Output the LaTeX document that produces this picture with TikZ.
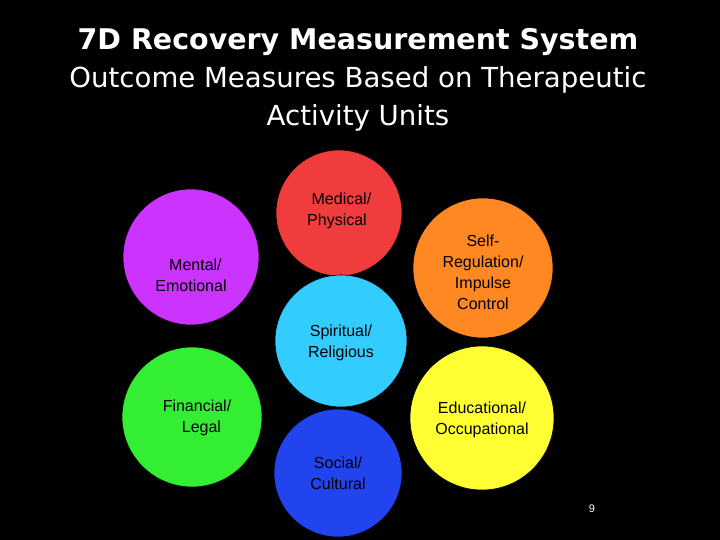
\documentclass[tikz,border=0pt]{standalone}
\usepackage{fontspec}
\setmainfont{Liberation Sans}
\newfontfamily\titlef{DejaVu Sans}
\begin{document}
\begin{tikzpicture}[x=1pt,y=-1pt,
  circ/.style={circle,draw=black,line width=0.6pt,inner sep=0pt},
  lab/.style={text=black,font=\fontsize{16}{21}\selectfont,align=center}]
\fill[black] (0,0) rectangle (720,540);
\useasboundingbox (0,0) rectangle (720,540);
\node[text=white,font=\titlef\bfseries\fontsize{28.5}{32}\selectfont] (t1) at (358,42) {7D Recovery Measurement System};
\node[text=white,font=\titlef\fontsize{27.6}{38}\selectfont,align=center] (t2) at (358,99) {Outcome Measures Based on Therapeutic\\Activity Units};
\node[circ,minimum size=126pt,fill={rgb,255:red,240;green,60;blue,60}] (med) at (339,213) {};
\node[circ,minimum size=136pt,fill={rgb,255:red,204;green,51;blue,255}] (men) at (191,257) {};
\node[circ,minimum size=140pt,fill={rgb,255:red,255;green,136;blue,34}] (self) at (483,268) {};
\node[circ,minimum size=132pt,fill={rgb,255:red,51;green,204;blue,255}] (spi) at (341,341) {};
\node[circ,minimum size=140pt,fill={rgb,255:red,51;green,238;blue,51}] (fin) at (192,417) {};
\node[circ,minimum size=144pt,fill={rgb,255:red,255;green,255;blue,51}] (edu) at (482,418) {};
\node[circ,minimum size=128pt,fill={rgb,255:red,34;green,68;blue,238}] (soc) at (338,473) {};
\node[lab] (lmed) at (337,211) {~~Medical/\\Physical};
\node[lab] (lmen) at (191,275) {~~Mental/\\Emotional};
\node[lab] (lself) at (483,272) {Self-\\Regulation/\\Impulse\\Control};
\node[lab] (lspi) at (341,343) {Spiritual/\\Religious};
\node[lab] (lfin) at (197,418) {Financial/\\~~Legal};
\node[lab] (ledu) at (482,420) {Educational/\\Occupational};
\node[lab] (lsoc) at (338,473) {Social/\\Cultural};
\node[text=white,font=\fontsize{11}{13}\selectfont] (num) at (592,509) {9};
\end{tikzpicture}
\end{document}
